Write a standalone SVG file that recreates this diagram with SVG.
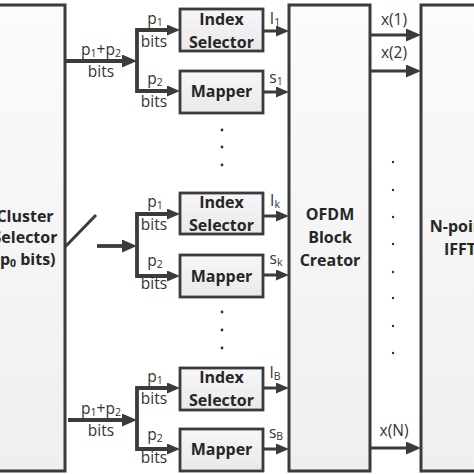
<svg xmlns="http://www.w3.org/2000/svg" width="474" height="474" viewBox="0 0 474 474">
<style>
.big{stroke:#3b3b3b;stroke-width:3;fill:url(#gBig)}
.sm{stroke:#3b3b3b;stroke-width:2.8;fill:url(#gSm)}
.bl{font-family:"Open Sans","DejaVu Sans",sans-serif;font-weight:bold;font-size:16px;fill:#262626;text-anchor:middle}
.lb{font-family:"Open Sans","DejaVu Sans",sans-serif;font-size:15.5px;fill:#333;text-anchor:middle}
.sub{font-size:10.5px}
.c{stroke:#3b3b3b;fill:none}
.f{stroke-width:3.8}
.t{stroke-width:3}
.dot{fill:#333}
</style>
<defs>
<linearGradient id="gBig" x1="0" y1="0" x2="0" y2="1"><stop offset="0" stop-color="#fbfbfb"/><stop offset="1" stop-color="#efefef"/></linearGradient>
<linearGradient id="gSm" x1="0" y1="0" x2="0" y2="1"><stop offset="0" stop-color="#f7f7f7"/><stop offset="1" stop-color="#e9e9e9"/></linearGradient>
<marker id="mb" viewBox="0 0 15 13" markerWidth="15" markerHeight="13" refX="5" refY="6.5" orient="auto" markerUnits="userSpaceOnUse"><path d="M0,0 L15,6.5 L0,13 z" fill="#3b3b3b"/></marker>
<marker id="ms" viewBox="0 0 13 11" markerWidth="13" markerHeight="11" refX="3" refY="5.5" orient="auto" markerUnits="userSpaceOnUse"><path d="M0,0 L13,5.5 L0,11 z" fill="#3b3b3b"/></marker>
</defs>
<rect width="474" height="474" fill="#ffffff"/>

<g id="cluster-selector">
<rect class="big" x="-20" y="5" width="85" height="466"/>
<text class="bl" x="25" y="222">Cluster</text>
<text class="bl" x="25" y="243">Selector</text>
<text class="bl" x="25" y="265">(p<tspan class="sub" dy="2">0</tspan><tspan dy="-2"> bits)</tspan></text>
</g>

<g id="ofdm-block-creator">
<rect class="big" x="289" y="5" width="81" height="466"/>
<text class="bl" x="330" y="220">OFDM</text>
<text class="bl" x="330" y="243">Block</text>
<text class="bl" x="330" y="266">Creator</text>
</g>

<g id="ifft">
<rect class="big" x="421" y="5" width="80" height="466"/>
<text class="bl" x="460" y="232">N-point</text>
<text class="bl" x="460" y="255">IFFT</text>
</g>

<g id="index-selector-1">
<rect class="sm" x="180" y="9" width="83" height="42"/>
<text class="bl" x="221.5" y="25">Index</text>
<text class="bl" x="221.5" y="48">Selector</text>
</g>
<g id="mapper-1">
<rect class="sm" x="180" y="71" width="83" height="42"/>
<text class="bl" x="221.5" y="97">Mapper</text>
</g>
<g id="index-selector-k">
<rect class="sm" x="180" y="193" width="83" height="41"/>
<text class="bl" x="221.5" y="208">Index</text>
<text class="bl" x="221.5" y="231">Selector</text>
</g>
<g id="mapper-k">
<rect class="sm" x="180" y="255" width="83" height="42"/>
<text class="bl" x="221.5" y="282">Mapper</text>
</g>
<g id="index-selector-b">
<rect class="sm" x="180" y="368" width="83" height="42"/>
<text class="bl" x="221.5" y="383">Index</text>
<text class="bl" x="221.5" y="406">Selector</text>
</g>
<g id="mapper-b">
<rect class="sm" x="180" y="429" width="83" height="42"/>
<text class="bl" x="221.5" y="455">Mapper</text>
</g>

<g id="connectors">
<!-- section 1 -->
<path class="c f" d="M65,61 H127" marker-end="url(#mb)"/>
<path class="c f" d="M137,61 V30 H170" marker-end="url(#ms)"/>
<path class="c f" d="M137,61 V91 H170" marker-end="url(#ms)"/>
<path class="c t" d="M263,31 H279" marker-end="url(#ms)"/>
<path class="c t" d="M263,92 H279" marker-end="url(#ms)"/>
<!-- section k -->
<path class="c t" d="M65,247 L96,215"/>
<path class="c f" d="M97,246 H127" marker-end="url(#mb)"/>
<path class="c f" d="M137,245 V214 H170" marker-end="url(#ms)"/>
<path class="c f" d="M137,245 V276 H170" marker-end="url(#ms)"/>
<path class="c t" d="M263,216 H279" marker-end="url(#ms)"/>
<path class="c t" d="M263,275 H279" marker-end="url(#ms)"/>
<!-- section B -->
<path class="c f" d="M68,420 H127" marker-end="url(#mb)"/>
<path class="c f" d="M137,419 V388 H170" marker-end="url(#ms)"/>
<path class="c f" d="M137,419 V449 H170" marker-end="url(#ms)"/>
<path class="c t" d="M263,388 H279" marker-end="url(#ms)"/>
<path class="c t" d="M263,449 H279" marker-end="url(#ms)"/>
<!-- OFDM to IFFT -->
<path class="c t" d="M370,35 H411" marker-end="url(#mb)"/>
<path class="c t" d="M370,71 H411" marker-end="url(#mb)"/>
<path class="c t" d="M370,448 H411" marker-end="url(#mb)"/>
</g>

<g id="labels">
<text class="lb" x="101" y="55">p<tspan class="sub" dy="2">1</tspan><tspan dy="-2">+p</tspan><tspan class="sub" dy="2">2</tspan></text>
<text class="lb" x="101" y="77">bits</text>
<text class="lb" x="101" y="414">p<tspan class="sub" dy="2">1</tspan><tspan dy="-2">+p</tspan><tspan class="sub" dy="2">2</tspan></text>
<text class="lb" x="101" y="436">bits</text>

<text class="lb" x="155" y="24">p<tspan class="sub" dy="2">1</tspan></text>
<text class="lb" x="154" y="47">bits</text>
<text class="lb" x="155" y="84">p<tspan class="sub" dy="2">2</tspan></text>
<text class="lb" x="154" y="107">bits</text>

<text class="lb" x="155" y="207">p<tspan class="sub" dy="2">1</tspan></text>
<text class="lb" x="154" y="230">bits</text>
<text class="lb" x="155" y="266">p<tspan class="sub" dy="2">2</tspan></text>
<text class="lb" x="154" y="289">bits</text>

<text class="lb" x="155" y="382">p<tspan class="sub" dy="2">1</tspan></text>
<text class="lb" x="154" y="404">bits</text>
<text class="lb" x="155" y="440">p<tspan class="sub" dy="2">2</tspan></text>
<text class="lb" x="154" y="463">bits</text>

<text class="lb" x="275" y="24">I<tspan class="sub" dy="2">1</tspan></text>
<text class="lb" x="276" y="83">s<tspan class="sub" dy="2">1</tspan></text>
<text class="lb" x="275" y="206">I<tspan class="sub" dy="2">k</tspan></text>
<text class="lb" x="276" y="264">s<tspan class="sub" dy="2">k</tspan></text>
<text class="lb" x="275" y="378">I<tspan class="sub" dy="2">B</tspan></text>
<text class="lb" x="276" y="438">s<tspan class="sub" dy="2">B</tspan></text>

<text class="lb" x="394" y="25">x(1)</text>
<text class="lb" x="394" y="58">x(2)</text>
<text class="lb" x="394" y="436">x(N)</text>
</g>

<g id="dots">
<circle class="dot" cx="222" cy="130" r="1.4"/>
<circle class="dot" cx="222" cy="147" r="1.4"/>
<circle class="dot" cx="222" cy="165" r="1.4"/>
<circle class="dot" cx="222" cy="312" r="1.4"/>
<circle class="dot" cx="222" cy="330" r="1.4"/>
<circle class="dot" cx="222" cy="348" r="1.4"/>
<circle class="dot" cx="393" cy="162" r="1.2"/>
<circle class="dot" cx="393" cy="190" r="1.2"/>
<circle class="dot" cx="393" cy="217" r="1.2"/>
<circle class="dot" cx="393" cy="244" r="1.2"/>
<circle class="dot" cx="393" cy="272" r="1.2"/>
<circle class="dot" cx="393" cy="298" r="1.2"/>
<circle class="dot" cx="393" cy="326" r="1.2"/>
<circle class="dot" cx="393" cy="353" r="1.2"/>
</g>
</svg>
